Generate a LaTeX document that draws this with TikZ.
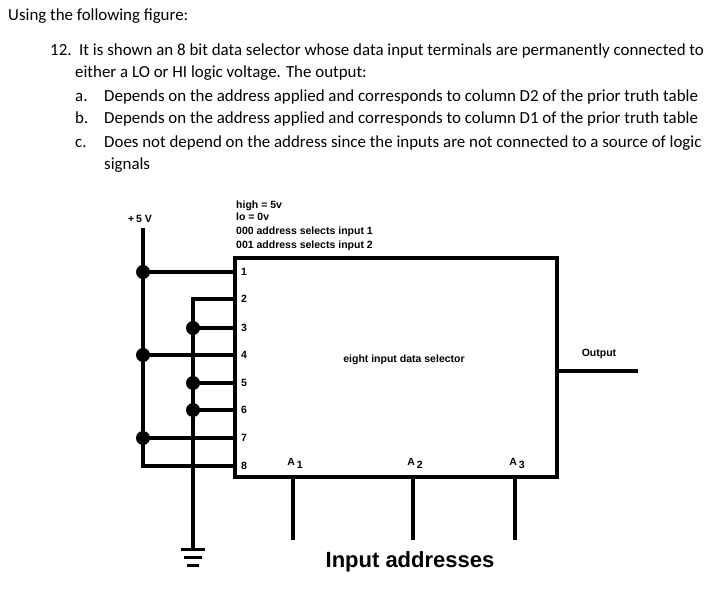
\documentclass[tikz,border=0pt]{standalone}
\usepackage{fontspec}
\setmainfont{Carlito}
\newfontfamily\arial{Liberation Sans}
\begin{document}
\begin{tikzpicture}[x=1pt,y=-1pt,
  txt/.style={anchor=base west,inner sep=0pt,font=\fontsize{16.9}{18}\selectfont},
  lab/.style={inner sep=0pt,font=\arial\bfseries\fontsize{10.5}{12}\selectfont},
  wire/.style={line width=3.4pt},
  dot/.style={circle,fill=black,inner sep=0pt,minimum size=14pt}]
\useasboundingbox (0,0) rectangle (720,591);
\node[txt] (t0) at (8,21) {Using the following figure:};
\node[txt] (t1) at (50,56) {12.\ \ It is shown an 8 bit data selector whose data input terminals are permanently connected to};
\node[txt] (t2) at (75,78) {either a LO or HI logic voltage. The output:};
\node[txt] (t3) at (75,102) {a.};
\node[txt] (t3b) at (104,102) {Depends on the address applied and corresponds to column D2 of the prior truth table};
\node[txt] (t4) at (75,124) {b.};
\node[txt] (t4b) at (104,124) {Depends on the address applied and corresponds to column D1 of the prior truth table};
\node[txt] (t5) at (75,147) {c.};
\node[txt] (t5b) at (104,147) {Does not depend on the address since the inputs are not connected to a source of logic};
\node[txt] (t6) at (104,169) {signals};
% header labels
\node[lab,anchor=base west] (h1) at (236,208) {high = 5v};
\node[lab,anchor=base west] (h2) at (236,220) {lo = 0v};
\node[lab,anchor=base west] (h3) at (236,234) {000 address selects input 1};
\node[lab,anchor=base west] (h4) at (236,248) {001 address selects input 2};
\node[lab] (v5) at (140,219) {+\,5 V};
% box
\draw[wire] (235,258) rectangle (557,477);
\node[lab] (cen) at (404,360) {eight input data selector};
\node[lab] (outl) at (599,354) {Output};
\coordinate (o1) at (557,371); \coordinate (o2) at (638,371);
\draw[wire] (o1) -- (o2);
% pins
\foreach \i/\y in {1/272,2/299,3/328,4/355,5/383,6/410,7/438,8/466}{
  \coordinate (p\i) at (235,\y);
  \node[lab,anchor=west] at (241,\y) {\i};
}
\coordinate (vt) at (143,228);
\coordinate (gb) at (193,548);
\draw[wire] (vt) |- (p8);
\draw[wire] (p2) -| (gb);
\foreach \i in {1,4,7}{ \draw[wire] (p\i) -- (143,0 |- p\i) node[dot]{}; }
\foreach \i in {3,5,6}{ \draw[wire] (p\i) -- (193,0 |- p\i) node[dot]{}; }
% ground
\draw[line width=3pt] (181,549) -- (205,549);
\draw[line width=3pt] (184,557) -- (202,557);
\draw[line width=3pt] (187,565) -- (199,565);
% address
\foreach \x/\n in {293/1,413/2,515/3}{
  \coordinate (a\n t) at (\x,477); \coordinate (a\n b) at (\x,540);
  \draw[wire] (a\n t) -- (a\n b);
  \node[lab,anchor=base] at (\x+2,465) {A\,\raisebox{-0.6ex}{\n}};
}
\node[inner sep=0pt,font=\arial\bfseries\fontsize{22}{24}\selectfont] (ia) at (410,562) {Input addresses};
\end{tikzpicture}
\end{document}
